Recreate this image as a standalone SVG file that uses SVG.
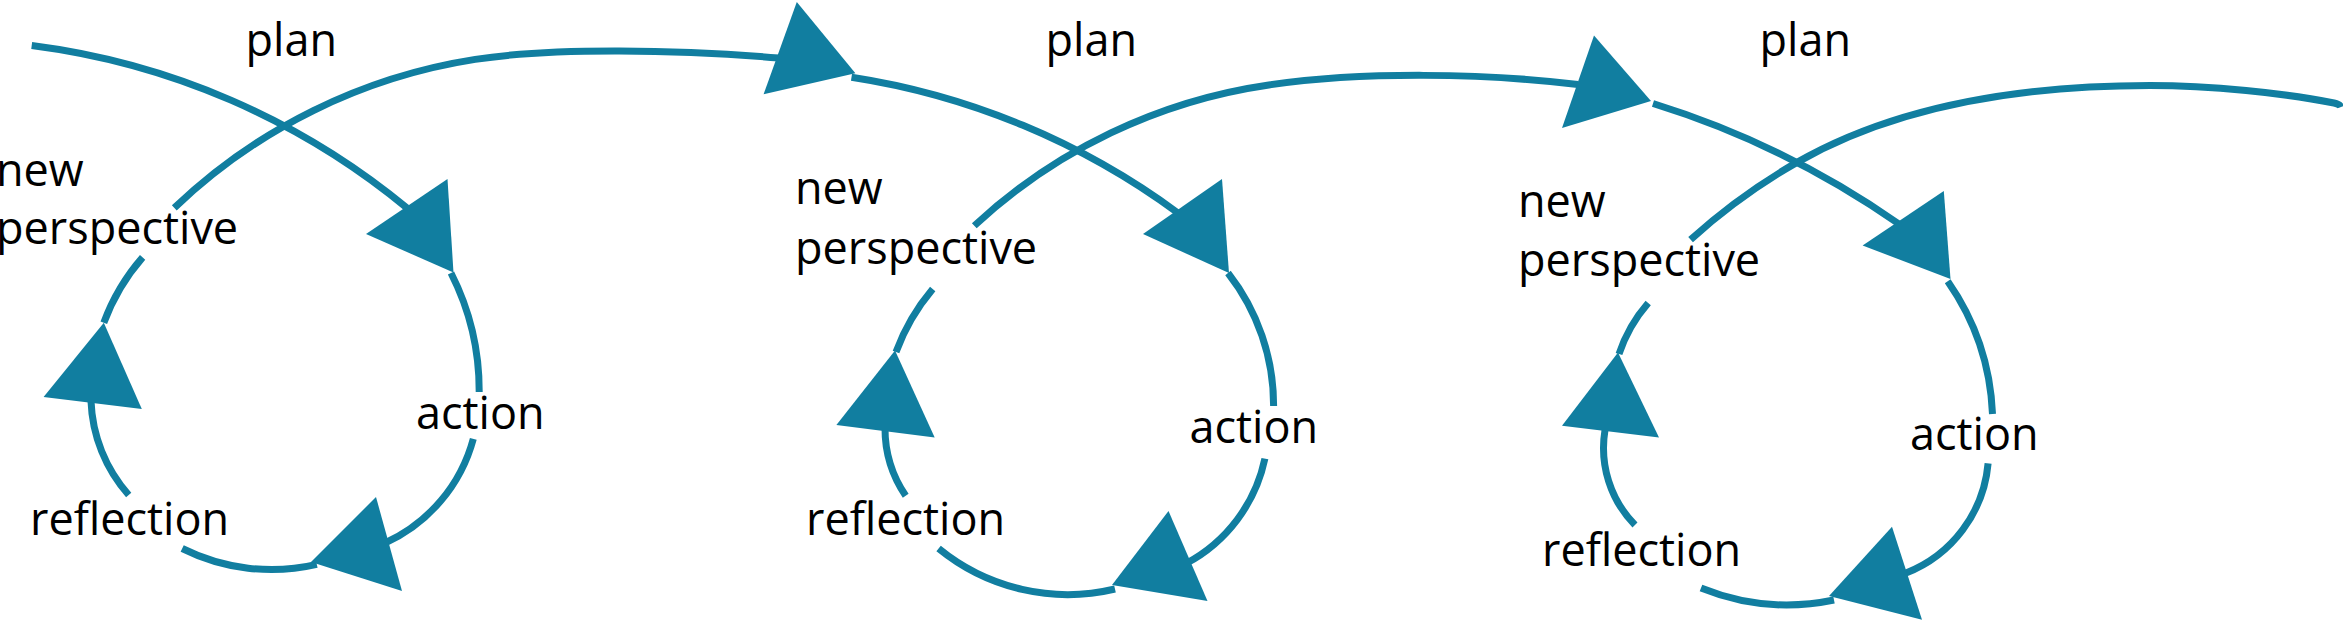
<svg xmlns="http://www.w3.org/2000/svg" width="2343" height="621" viewBox="0 0 2343 621">
<style>
.ln{fill:none;stroke:#117ea0;stroke-width:7;stroke-linecap:butt;stroke-linejoin:round}
.ah{fill:#117ea0;stroke:none}
.lb{font-family:"Open Sans","Noto Sans","Liberation Sans",sans-serif;font-size:45px;fill:#000}
</style>
<rect width="2343" height="621" fill="#ffffff"/>
<g id="connectors">
  <g id="cycle1-connectors">
    <path class="ln" d="M31.7,45.5 A735,735 0 0 1 407,208"/>
    <path class="ln" d="M451,273 A260,260 0 0 1 479.2,392"/>
    <path class="ln" d="M473.3,438.8 A160,160 0 0 1 385,543"/>
    <path class="ln" d="M316.8,564.4 A200,200 0 0 1 182.2,548.5"/>
    <path class="ln" d="M128.7,495 A150,150 0 0 1 91,401"/>
    <path class="ln" d="M103.8,322.8 A210,210 0 0 1 142.6,257.4"/>
    <path class="ln" d="M174.3,207.9 A560,560 0 0 1 475.2,59.4 C554.2,47.1 679.3,49.7 779,58"/>
    <polygon class="ah" points="366,234 447.5,179 453.5,272.5"/>
    <polygon class="ah" points="376,497 402,591 311,562"/>
    <polygon class="ah" points="43.6,397 141.8,409 103.8,322.8"/>
    <polygon class="ah" points="796.8,2 855.4,73.3 763.6,94.3"/>
  </g>
  <g id="cycle2-connectors">
    <path class="ln" d="M851.5,77.2 A740,740 0 0 1 1178,213"/>
    <path class="ln" d="M1228,273 A215,215 0 0 1 1273.6,406"/>
    <path class="ln" d="M1264.9,458.6 A155,155 0 0 1 1186,563.5"/>
    <path class="ln" d="M1115,589 A204,204 0 0 1 938.6,548.5"/>
    <path class="ln" d="M905.7,495.8 A120,120 0 0 1 885,428"/>
    <path class="ln" d="M896,352 A212,212 0 0 1 932.7,289.1"/>
    <path class="ln" d="M974.3,225.7 A549,549 0 0 1 1268.8,85 C1362.8,71.4 1483.7,73.1 1578,84.5"/>
    <polygon class="ah" points="1143,234 1222,179 1229,273"/>
    <polygon class="ah" points="1168.5,511 1207.5,601 1112,585"/>
    <polygon class="ah" points="836.4,425 934.7,437.6 895,350.5"/>
    <polygon class="ah" points="1594,35.6 1651,101 1562,128"/>
  </g>
  <g id="cycle3-connectors">
    <path class="ln" d="M1653,103.5 A887,887 0 0 1 1899,224"/>
    <path class="ln" d="M1947.7,281.2 A250,250 0 0 1 1992.5,414"/>
    <path class="ln" d="M1988.1,463.4 A130,130 0 0 1 1906,573"/>
    <path class="ln" d="M1834,600 A230,230 0 0 1 1701,588"/>
    <path class="ln" d="M1635,525 A110,110 0 0 1 1605,430"/>
    <path class="ln" d="M1619,354 A150,150 0 0 1 1648.2,303"/>
    <path class="ln" d="M1690.6,239.6 A609,609 0 0 1 1797,162.4 C1901.2,102.8 2030,85.5 2150,85.5 C2210,85.5 2285,93.2 2334,103 Q2340,104.5 2341,107"/>
    <polygon class="ah" points="1862.6,245.5 1943.8,191 1950.5,279"/>
    <polygon class="ah" points="1892,526.7 1922,619.8 1829,596"/>
    <polygon class="ah" points="1562,425.7 1659,437.6 1618,352.5"/>
  </g>
</g>
<g id="cycle1-plan"><text class="lb" x="245.5" y="55.5">plan</text></g>
<g id="cycle1-new-perspective"><text class="lb" x="-4" y="185.5">new</text><text class="lb" x="-4" y="244">perspective</text></g>
<g id="cycle1-action"><text class="lb" x="416" y="429">action</text></g>
<g id="cycle1-reflection"><text class="lb" x="30" y="535">reflection</text></g>
<g id="cycle2-plan"><text class="lb" x="1045.5" y="55.5">plan</text></g>
<g id="cycle2-new-perspective"><text class="lb" x="795" y="204">new</text><text class="lb" x="795" y="263.5">perspective</text></g>
<g id="cycle2-action"><text class="lb" x="1189.5" y="443">action</text></g>
<g id="cycle2-reflection"><text class="lb" x="806" y="535">reflection</text></g>
<g id="cycle3-plan"><text class="lb" x="1759.5" y="55.5">plan</text></g>
<g id="cycle3-new-perspective"><text class="lb" x="1518" y="217">new</text><text class="lb" x="1518" y="276">perspective</text></g>
<g id="cycle3-action"><text class="lb" x="1910" y="450">action</text></g>
<g id="cycle3-reflection"><text class="lb" x="1542" y="566">reflection</text></g>
</svg>
